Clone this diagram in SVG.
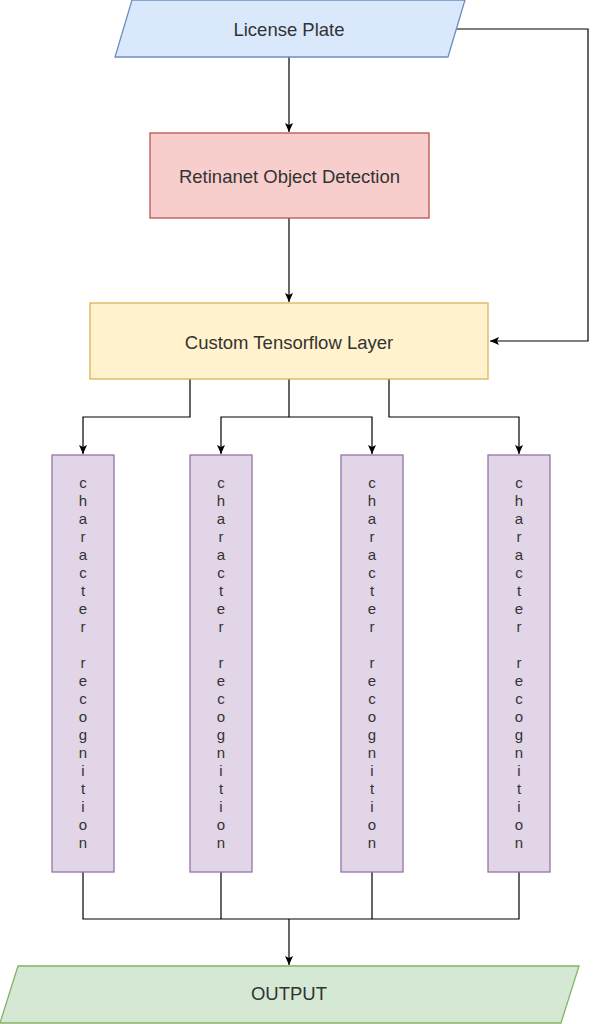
<svg xmlns="http://www.w3.org/2000/svg" width="596" height="1024" viewBox="0 0 596 1024">
<style>
.lbl{font-family:"Liberation Sans",Arial,sans-serif;font-size:18.5px;fill:#333;text-anchor:middle}
.vt{font-family:"Liberation Sans",Arial,sans-serif;font-size:15px;fill:#333;text-anchor:middle}
.cr{fill:#e1d5e7;stroke:#9673a6;stroke-width:1.3}
.edge{fill:none;stroke:#000;stroke-width:1.2}
</style>
<defs>
<marker id="arr" markerWidth="10" markerHeight="10" refX="9" refY="4" orient="auto" markerUnits="userSpaceOnUse">
<path d="M0,0 L9,4 L0,8 L2,4 z" fill="#000"/>
</marker>
</defs>
<rect width="596" height="1024" fill="#fff"/>
<g id="connectors">
<path class="edge" d="M289,57 V132" marker-end="url(#arr)"/>
<path class="edge" d="M289,218 V302" marker-end="url(#arr)"/>
<path class="edge" d="M456,29 H588 V341 H490" marker-end="url(#arr)"/>
<path class="edge" d="M190,379 V417 H83 V454" marker-end="url(#arr)"/>
<path class="edge" d="M289,379 V417 H221 V454" marker-end="url(#arr)"/>
<path class="edge" d="M289,417 H372 V454" marker-end="url(#arr)"/>
<path class="edge" d="M389,379 V417 H519 V454" marker-end="url(#arr)"/>
<path class="edge" d="M83,872 V919 H519 V872 M221,872 V919 M372,872 V919"/>
<path class="edge" d="M289,919 V965" marker-end="url(#arr)"/>
</g>
<g id="license-plate">
<polygon points="132,0 465,0 448,57 115,57" fill="#dae8fc" stroke="#6c8ebf" stroke-width="1.3"/>
<text class="lbl" x="289" y="35.7">License Plate</text>
</g>
<g id="retinanet">
<rect x="150" y="133" width="279" height="85" fill="#f8cecc" stroke="#b85450" stroke-width="1.3"/>
<text class="lbl" x="289.5" y="182.7">Retinanet Object Detection</text>
</g>
<g id="custom-layer">
<rect x="90" y="303" width="398" height="76" fill="#fff2cc" stroke="#d6b656" stroke-width="1.3"/>
<text class="lbl" x="289" y="349">Custom Tensorflow Layer</text>
</g>
<g id="char-rec-1">
<rect class="cr" x="52" y="455" width="62" height="417"/>
<text class="vt" y="488"><tspan x="83">c</tspan><tspan x="83" dy="18">h</tspan><tspan x="83" dy="18">a</tspan><tspan x="83" dy="18">r</tspan><tspan x="83" dy="18">a</tspan><tspan x="83" dy="18">c</tspan><tspan x="83" dy="18">t</tspan><tspan x="83" dy="18">e</tspan><tspan x="83" dy="18">r</tspan><tspan x="83" dy="36">r</tspan><tspan x="83" dy="18">e</tspan><tspan x="83" dy="18">c</tspan><tspan x="83" dy="18">o</tspan><tspan x="83" dy="18">g</tspan><tspan x="83" dy="18">n</tspan><tspan x="83" dy="18">i</tspan><tspan x="83" dy="18">t</tspan><tspan x="83" dy="18">i</tspan><tspan x="83" dy="18">o</tspan><tspan x="83" dy="18">n</tspan></text>
</g>
<g id="char-rec-2">
<rect class="cr" x="190" y="455" width="62" height="417"/>
<text class="vt" y="488"><tspan x="221">c</tspan><tspan x="221" dy="18">h</tspan><tspan x="221" dy="18">a</tspan><tspan x="221" dy="18">r</tspan><tspan x="221" dy="18">a</tspan><tspan x="221" dy="18">c</tspan><tspan x="221" dy="18">t</tspan><tspan x="221" dy="18">e</tspan><tspan x="221" dy="18">r</tspan><tspan x="221" dy="36">r</tspan><tspan x="221" dy="18">e</tspan><tspan x="221" dy="18">c</tspan><tspan x="221" dy="18">o</tspan><tspan x="221" dy="18">g</tspan><tspan x="221" dy="18">n</tspan><tspan x="221" dy="18">i</tspan><tspan x="221" dy="18">t</tspan><tspan x="221" dy="18">i</tspan><tspan x="221" dy="18">o</tspan><tspan x="221" dy="18">n</tspan></text>
</g>
<g id="char-rec-3">
<rect class="cr" x="341" y="455" width="62" height="417"/>
<text class="vt" y="488"><tspan x="372">c</tspan><tspan x="372" dy="18">h</tspan><tspan x="372" dy="18">a</tspan><tspan x="372" dy="18">r</tspan><tspan x="372" dy="18">a</tspan><tspan x="372" dy="18">c</tspan><tspan x="372" dy="18">t</tspan><tspan x="372" dy="18">e</tspan><tspan x="372" dy="18">r</tspan><tspan x="372" dy="36">r</tspan><tspan x="372" dy="18">e</tspan><tspan x="372" dy="18">c</tspan><tspan x="372" dy="18">o</tspan><tspan x="372" dy="18">g</tspan><tspan x="372" dy="18">n</tspan><tspan x="372" dy="18">i</tspan><tspan x="372" dy="18">t</tspan><tspan x="372" dy="18">i</tspan><tspan x="372" dy="18">o</tspan><tspan x="372" dy="18">n</tspan></text>
</g>
<g id="char-rec-4">
<rect class="cr" x="488" y="455" width="62" height="417"/>
<text class="vt" y="488"><tspan x="519">c</tspan><tspan x="519" dy="18">h</tspan><tspan x="519" dy="18">a</tspan><tspan x="519" dy="18">r</tspan><tspan x="519" dy="18">a</tspan><tspan x="519" dy="18">c</tspan><tspan x="519" dy="18">t</tspan><tspan x="519" dy="18">e</tspan><tspan x="519" dy="18">r</tspan><tspan x="519" dy="36">r</tspan><tspan x="519" dy="18">e</tspan><tspan x="519" dy="18">c</tspan><tspan x="519" dy="18">o</tspan><tspan x="519" dy="18">g</tspan><tspan x="519" dy="18">n</tspan><tspan x="519" dy="18">i</tspan><tspan x="519" dy="18">t</tspan><tspan x="519" dy="18">i</tspan><tspan x="519" dy="18">o</tspan><tspan x="519" dy="18">n</tspan></text>
</g>
<g id="output">
<polygon points="18,966 579,966 561,1023 0,1023" fill="#d5e8d4" stroke="#82b366" stroke-width="1.3"/>
<text class="lbl" x="289" y="1000">OUTPUT</text>
</g>
</svg>
